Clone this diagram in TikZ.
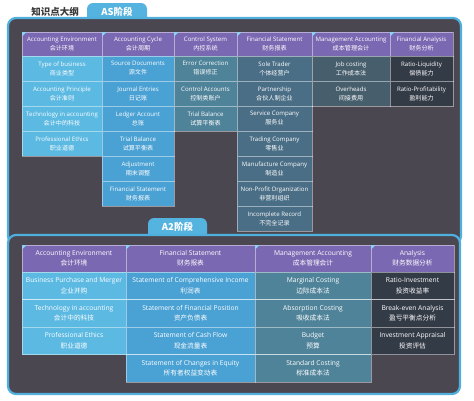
\documentclass[tikz,border=0pt]{standalone}
\usepackage{fontspec}
\setmainfont{Open Sans}
\newfontfamily\cjk{Noto Sans CJK SC}
\definecolor{panelbg}{HTML}{4A4751}
\definecolor{panelline}{HTML}{4FAFDD}
\definecolor{tabblue}{HTML}{55B3DF}
\definecolor{headpurple}{HTML}{7B68B2}
\definecolor{triblue}{HTML}{8FD0F0}
\definecolor{colA}{HTML}{5BB9E2}
\definecolor{colB}{HTML}{4AA1D4}
\definecolor{colC}{HTML}{4F8399}
\definecolor{colD}{HTML}{4A6E86}
\definecolor{colE}{HTML}{475E6D}
\definecolor{colF}{HTML}{333B47}
\definecolor{titlegrey}{HTML}{3A3A3A}
\tikzset{
  cellbase/.style={draw=white, draw opacity=0.45, line width=0.5pt, inner sep=0pt, outer sep=0pt,
    align=center, text=white},
  topcell/.style={cellbase, font=\fontsize{6.1}{9}\selectfont},
  lowcell/.style={cellbase, font=\fontsize{6.7}{10.2}\selectfont},
  hdr/.style={fill=headpurple},
  cA/.style={fill=colA}, cB/.style={fill=colB}, cC/.style={fill=colC},
  cD/.style={fill=colD}, cE/.style={fill=colE}, cF/.style={fill=colF},
  panel/.style={fill=panelbg, draw=panelline, line width=2.2pt, rounded corners=8pt},
  tab/.style={fill=tabblue, rounded corners=6pt},
  tri/.style={fill=triblue},
  tabtext/.style={text=white, font=\cjk\bfseries\fontsize{9.5}{10}\selectfont},
}
% name, x1, y1, x2, y2, style, english, chinese
\newcommand\mycell[8]{%
  \node[#6, minimum width={(#4-#2)*1pt}, minimum height={(#5-#3)*1pt}] (#1) at ({(#2+#4)/2},{(#3+#5)/2}) {#7\\{\cjk #8}};}
\newcommand\mytri[1]{\fill[tri] (#1.north west) -- ++(4.5,0) -- ++(-4.5,4.5) -- cycle;}
\begin{document}
\begin{tikzpicture}[x=1pt,y=-1pt]
\useasboundingbox (0,0) rectangle (474,400);
% ---------- top panel ----------
\fill[tab] (87,3) rectangle (147,26);
\node[tabtext] (astab) at (117,11.5) {AS阶段};
\node[text=titlegrey, font=\cjk\bfseries\fontsize{9.5}{10}\selectfont] (title) at (55,11.5) {知识点大纲};
\draw[panel] (8,18) rectangle (461,244);
% headers
\mycell{h1}{22}{32}{102}{56}{topcell,hdr}{Accounting Environment}{会计环境}
\mycell{h2}{102}{32}{174}{56}{topcell,hdr}{Accounting Cycle}{会计周期}
\mycell{h3}{174}{32}{237}{56}{topcell,hdr}{Control System}{内控系统}
\mycell{h4}{237}{32}{312}{56}{topcell,hdr}{Financial Statement}{财务报表}
\mycell{h5}{312}{32}{390}{56}{topcell,hdr}{Management Accounting}{成本管理会计}
\mycell{h6}{390}{32}{453}{56}{topcell,hdr}{Financial Analysis}{财务分析}
\mytri{h1}\mytri{h2}\mytri{h3}\mytri{h4}\mytri{h5}\mytri{h6}
% column 1
\mycell{a1}{22}{56}{102}{81}{topcell,cA}{Type of business}{商业类型}
\mycell{a2}{22}{81}{102}{106}{topcell,cA}{Accounting Principle}{会计准则}
\mycell{a3}{22}{106}{102}{131}{topcell,cA}{Technology in accounting}{会计中的科技}
\mycell{a4}{22}{131}{102}{156}{topcell,cA}{Professional Ethics}{职业道德}
% column 2
\mycell{b1}{102}{56}{174}{81}{topcell,cB}{Source Documents}{源文件}
\mycell{b2}{102}{81}{174}{106}{topcell,cB}{Journal Entries}{日记账}
\mycell{b3}{102}{106}{174}{131}{topcell,cB}{Ledger Account}{总账}
\mycell{b4}{102}{131}{174}{156}{topcell,cB}{Trial Balance}{试算平衡表}
\mycell{b5}{102}{156}{174}{181}{topcell,cB}{Adjustment}{期末调整}
\mycell{b6}{102}{181}{174}{206}{topcell,cB}{Financial Statement}{财务报表}
% column 3
\mycell{c1}{174}{56}{237}{81}{topcell,cC}{Error Correction}{错误修正}
\mycell{c2}{174}{81}{237}{106}{topcell,cC}{Control Accounts}{控制类账户}
\mycell{c3}{174}{106}{237}{131}{topcell,cC}{Trial Balance}{试算平衡表}
% column 4
\mycell{d1}{237}{56}{312}{81}{topcell,cD}{Sole Trader}{个体经营户}
\mycell{d2}{237}{81}{312}{106}{topcell,cD}{Partnership}{合伙人制企业}
\mycell{d3}{237}{106}{312}{131}{topcell,cD}{Service Company}{服务业}
\mycell{d4}{237}{131}{312}{156}{topcell,cD}{Trading Company}{零售业}
\mycell{d5}{237}{156}{312}{181}{topcell,cD}{Manufacture Company}{制造业}
\mycell{d6}{237}{181}{312}{206}{topcell,cD}{Non-Profit Organization}{非营利组织}
\mycell{d7}{237}{206}{312}{231}{topcell,cD}{Incomplete Record}{不完全记录}
% column 5
\mycell{e1}{312}{56}{390}{81}{topcell,cE}{Job costing}{工作成本法}
\mycell{e2}{312}{81}{390}{106}{topcell,cE}{Overheads}{间接费用}
% column 6
\mycell{f1}{390}{56}{453}{81}{topcell,cF}{Ratio-Liquidity}{偿债能力}
\mycell{f2}{390}{81}{453}{106}{topcell,cF}{Ratio-Profitability}{盈利能力}
% ---------- lower panel ----------
\fill[tab] (148,218) rectangle (207,240);
\node[tabtext] (a2tab) at (177.5,227) {A2阶段};
\draw[panel] (8,235) rectangle (460,394);
\mycell{H1}{22}{245}{126}{272}{lowcell,hdr}{Accounting Environment}{会计环境}
\mycell{H2}{126}{245}{255}{272}{lowcell,hdr}{Financial Statement}{财务报表}
\mycell{H3}{255}{245}{371}{272}{lowcell,hdr}{Management Accounting}{成本管理会计}
\mycell{H4}{371}{245}{454}{272}{lowcell,hdr}{Analysis}{财务数据分析}
\mytri{H1}\mytri{H2}\mytri{H3}\mytri{H4}
\mycell{A1}{22}{272}{126}{299.5}{lowcell,cA}{Business Purchase and Merger}{企业并购}
\mycell{A2}{22}{299.5}{126}{327}{lowcell,cA}{Technology in accounting}{会计中的科技}
\mycell{A3}{22}{327}{126}{354.5}{lowcell,cA}{Professional Ethics}{职业道德}
\mycell{B1}{126}{272}{255}{299.5}{lowcell,cB}{Statement of Comprehensive Income}{利润表}
\mycell{B2}{126}{299.5}{255}{327}{lowcell,cB}{Statement of Financial Position}{资产负债表}
\mycell{B3}{126}{327}{255}{354.5}{lowcell,cB}{Statement of Cash Flow}{现金流量表}
\mycell{B4}{126}{354.5}{255}{382}{lowcell,cB}{Statement of Changes in Equity}{所有者权益变动表}
\mycell{C1}{255}{272}{371}{299.5}{lowcell,cC}{Marginal Costing}{边际成本法}
\mycell{C2}{255}{299.5}{371}{327}{lowcell,cC}{Absorption Costing}{吸收成本法}
\mycell{C3}{255}{327}{371}{354.5}{lowcell,cC}{Budget}{预算}
\mycell{C4}{255}{354.5}{371}{382}{lowcell,cC}{Standard Costing}{标准成本法}
\mycell{D1}{371}{272}{454}{299.5}{lowcell,cF}{Ratio-Investment}{投资收益率}
\mycell{D2}{371}{299.5}{454}{327}{lowcell,cF}{Break-even Analysis}{盈亏平衡点分析}
\mycell{D3}{371}{327}{454}{354.5}{lowcell,cF}{Investment Appraisal}{投资评估}
\end{tikzpicture}
\end{document}
